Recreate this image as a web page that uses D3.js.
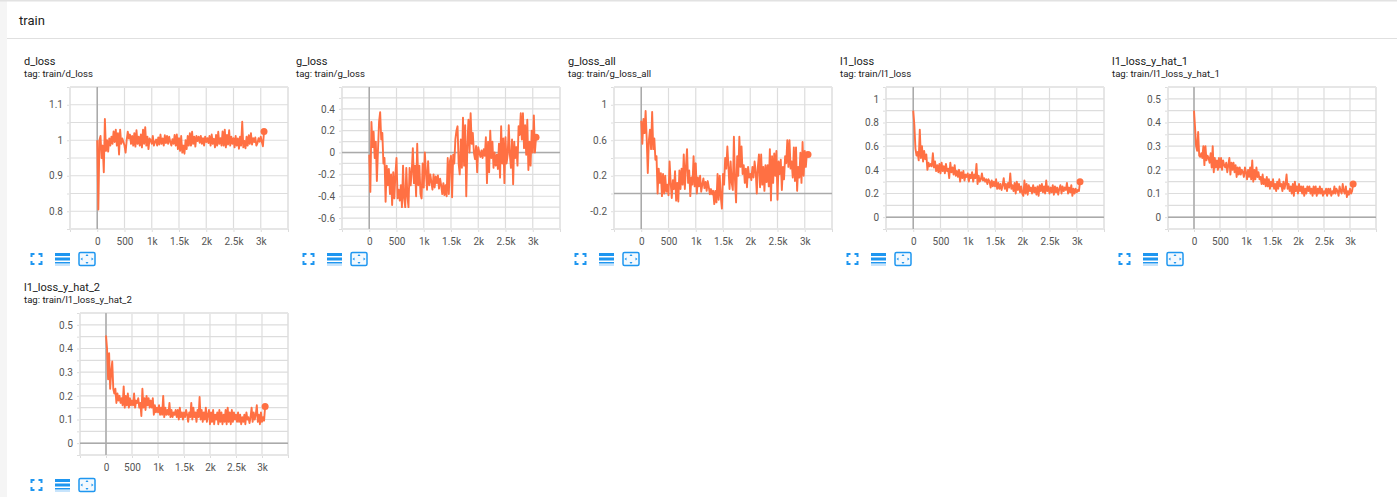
<!DOCTYPE html>
<html>
<head>
<meta charset="utf-8">
<script src="https://cdnjs.cloudflare.com/ajax/libs/d3/7.8.5/d3.min.js"></script>
<style>
html, body { margin: 0; padding: 0; background: #fff; overflow: hidden; }
svg { display: block; font-family: Roboto, sans-serif; }
.domain { display: none; }
</style>
</head>
<body>
<div id="board"></div>
<script>
// training steps, one row = 200 steps
const steps = [
    0, 20, 40, 60, 80, 100, 120, 140, 160, 180,
    200, 220, 240, 260, 280, 300, 320, 340, 360, 380,
    400, 420, 440, 460, 480, 500, 520, 540, 560, 580,
    600, 620, 640, 660, 680, 700, 720, 740, 760, 780,
    800, 820, 840, 860, 880, 900, 920, 940, 960, 980,
    1000, 1020, 1040, 1060, 1080, 1100, 1120, 1140, 1160, 1180,
    1200, 1220, 1240, 1260, 1280, 1300, 1320, 1340, 1360, 1380,
    1400, 1420, 1440, 1460, 1480, 1500, 1520, 1540, 1560, 1580,
    1600, 1620, 1640, 1660, 1680, 1700, 1720, 1740, 1760, 1780,
    1800, 1820, 1840, 1860, 1880, 1900, 1920, 1940, 1960, 1980,
    2000, 2020, 2040, 2060, 2080, 2100, 2120, 2140, 2160, 2180,
    2200, 2220, 2240, 2260, 2280, 2300, 2320, 2340, 2360, 2380,
    2400, 2420, 2440, 2460, 2480, 2500, 2520, 2540, 2560, 2580,
    2600, 2620, 2640, 2660, 2680, 2700, 2720, 2740, 2760, 2780,
    2800, 2820, 2840, 2860, 2880, 2900, 2920, 2940, 2960, 2980,
    3000, 3020, 3040, 3060
];

const dLoss = [
    1.0, 0.805, 1.0, 1.012, 0.95, 0.985, 0.91, 1.06, 0.97, 1.0,
    0.968, 1.005, 0.985, 1.01, 0.99, 1.025, 0.995, 1.03, 0.985, 1.02,
    0.96, 1.03, 0.99, 1.005, 0.995, 0.985, 0.965, 1.0, 1.024, 1.005,
    1.016, 0.99, 1.012, 0.985, 1.02, 0.982, 1.028, 0.99, 1.01, 0.985,
    1.016, 0.98, 1.03, 0.99, 1.037, 0.985, 1.01, 0.975, 1.005, 1.0,
    0.99, 1.012, 0.985, 0.995, 1.002, 0.985, 1.008, 0.988, 1.016, 0.99,
    1.005, 0.985, 1.014, 0.992, 1.012, 0.99, 1.01, 0.995, 0.985, 1.003,
    0.99, 1.015, 0.985, 1.016, 0.975, 1.006, 0.97, 1.012, 0.965, 0.985,
    0.962, 1.0, 0.975, 1.012, 0.985, 1.02, 0.985, 1.024, 0.99, 1.01,
    0.982, 1.012, 0.998, 1.01, 0.993, 1.012, 0.99, 1.006, 0.985, 1.01,
    0.995, 1.006, 0.992, 1.012, 0.985, 1.016, 0.99, 1.004, 0.98, 1.015,
    0.985, 1.024, 0.99, 1.006, 0.985, 1.025, 0.985, 1.03, 0.98, 1.015,
    0.988, 1.028, 0.985, 1.01, 0.99, 1.006, 0.98, 1.012, 0.985, 1.005,
    0.976, 1.01, 0.985, 1.052, 0.98, 0.998, 0.977, 1.01, 0.985, 1.014,
    0.99, 1.02, 0.988, 1.006, 0.995, 1.008, 0.985, 0.992, 1.006, 0.996,
    1.01, 0.995, 0.983, 1.025
];

const gLoss = [
    -0.02, -0.36, 0.28, 0.05, 0.19, -0.05, 0.1, -0.26, 0.02, 0.28,
    0.37, 0.12, 0.18, -0.1, -0.05, -0.45, -0.12, -0.3, -0.15, -0.38,
    -0.2, -0.48, -0.18, -0.42, -0.2, -0.05, -0.42, -0.34, -0.44, -0.3,
    -0.5, -0.12, -0.42, -0.5, -0.14, -0.4, -0.5, -0.14, -0.3, -0.17,
    0.04, -0.28, -0.12, -0.4, 0.08, -0.3, -0.12, -0.38, -0.42, -0.1,
    -0.32, 0.0, -0.18, -0.34, -0.08, -0.3, -0.2, -0.27, -0.34, -0.2,
    -0.32, -0.22, -0.28, -0.21, -0.33, -0.24, -0.3, -0.38, -0.28, -0.39,
    -0.3, -0.4, -0.05, -0.38, -0.08, -0.03, -0.41, -0.02, -0.1, 0.12,
    0.2, 0.24, -0.1, -0.2, 0.12, -0.14, 0.32, -0.12, 0.25, -0.4,
    0.06, 0.3, 0.0, 0.36, 0.08, 0.18, 0.0, -0.06, 0.06, -0.18,
    0.05, 0.0, -0.04, 0.02, -0.05, 0.03, -0.03, 0.14, -0.28, 0.1,
    -0.18, 0.2, -0.05, 0.1, -0.14, 0.0, -0.12, -0.02, -0.15, 0.08,
    -0.23, 0.24, -0.1, 0.13, -0.28, 0.14, -0.1, -0.02, 0.25, -0.02,
    -0.14, 0.12, -0.29, 0.1, -0.05, 0.05, -0.12, 0.24, 0.16, 0.36,
    0.12, 0.36, 0.04, 0.25, -0.02, 0.3, -0.16, 0.1, -0.12, 0.2,
    0.0, 0.34, 0.0, 0.14
];

const gLossAll = [
    0.82, 0.56, 0.84, 0.68, 0.93, 0.62, 0.23, 0.6, 0.72, 0.5,
    0.92, 0.5, 0.62, 0.38, 0.42, 0.0, 0.28, 0.12, 0.23, -0.03,
    0.22, 0.0, 0.2, 0.02, 0.1, -0.02, 0.36, 0.12, -0.05, 0.15,
    0.05, 0.25, -0.08, 0.12, -0.09, 0.26, 0.05, 0.28, 0.1, 0.44,
    0.05, 0.3, 0.5, 0.12, 0.26, -0.03, 0.18, 0.1, 0.42, 0.08,
    0.34, 0.0, 0.18, 0.08, 0.2, 0.02, 0.1, 0.17, 0.06, 0.13,
    0.03, 0.14, 0.07, -0.01, 0.05, -0.01, 0.03, -0.12, 0.03, -0.1,
    0.22, -0.07, 0.2, -0.04, -0.17, 0.22, 0.1, 0.4, 0.28, 0.53,
    0.3, 0.05, 0.36, 0.12, 0.04, 0.64, 0.15, -0.1, 0.42, 0.2,
    0.64, 0.3, 0.53, 0.22, 0.32, 0.12, 0.28, 0.07, 0.3, 0.18,
    0.22, 0.15, 0.3, 0.18, 0.36, 0.25, 0.0, 0.3, 0.44, 0.07,
    0.44, 0.1, 0.3, 0.03, 0.32, 0.13, 0.32, 0.08, 0.5, -0.08,
    0.42, 0.12, 0.45, 0.2, 0.48, -0.07, 0.36, 0.22, 0.38, 0.04,
    0.3, 0.16, 0.42, 0.34, 0.6, 0.3, 0.6, 0.28, 0.36, 0.18,
    0.52, 0.14, 0.52, 0.03, 0.3, 0.18, 0.46, 0.12, 0.58, 0.2,
    0.48, 0.3, 0.46, 0.44
];

const l1Loss = [
    0.9, 0.78, 0.58, 0.52, 0.55, 0.48, 0.74, 0.5, 0.6, 0.47,
    0.56, 0.49, 0.53, 0.4, 0.46, 0.43, 0.45, 0.43, 0.54, 0.42,
    0.47, 0.39, 0.44, 0.38, 0.45, 0.37, 0.46, 0.39, 0.43, 0.37,
    0.45, 0.39, 0.41, 0.33, 0.46, 0.38, 0.42, 0.36, 0.44, 0.35,
    0.39, 0.34, 0.4, 0.3, 0.38, 0.33, 0.39, 0.31, 0.36, 0.34,
    0.37, 0.3, 0.36, 0.33, 0.38, 0.3, 0.36, 0.33, 0.45, 0.28,
    0.35, 0.3, 0.32, 0.37, 0.31, 0.33, 0.3, 0.32, 0.28, 0.32,
    0.3, 0.25, 0.31, 0.26, 0.3, 0.26, 0.32, 0.24, 0.29, 0.24,
    0.28, 0.23, 0.27, 0.33, 0.24, 0.28, 0.22, 0.29, 0.25, 0.37,
    0.24, 0.27, 0.22, 0.29, 0.2, 0.3, 0.23, 0.28, 0.21, 0.26,
    0.2, 0.18, 0.31, 0.2, 0.28, 0.19, 0.27, 0.22, 0.25, 0.2,
    0.27, 0.21, 0.25, 0.19, 0.26, 0.18, 0.27, 0.22, 0.28, 0.21,
    0.26, 0.2, 0.31, 0.22, 0.26, 0.2, 0.25, 0.21, 0.27, 0.19,
    0.26, 0.21, 0.25, 0.19, 0.24, 0.27, 0.2, 0.26, 0.22, 0.25,
    0.23, 0.29, 0.2, 0.25, 0.21, 0.27, 0.18, 0.24, 0.2, 0.24,
    0.21, 0.23, 0.22, 0.3
];

const l1Hat1 = [
    0.45, 0.38, 0.3, 0.28, 0.36, 0.26, 0.255, 0.27, 0.25, 0.3,
    0.22, 0.3, 0.24, 0.26, 0.25, 0.23, 0.27, 0.21, 0.3, 0.19,
    0.25, 0.21, 0.24, 0.2, 0.25, 0.21, 0.25, 0.2, 0.24, 0.22,
    0.21, 0.23, 0.19, 0.22, 0.25, 0.18, 0.23, 0.2, 0.23, 0.19,
    0.22, 0.17, 0.21, 0.18, 0.21, 0.18, 0.2, 0.19, 0.17, 0.21,
    0.19, 0.16, 0.2, 0.17, 0.21, 0.16, 0.24, 0.15, 0.2, 0.16,
    0.21, 0.17, 0.19, 0.16, 0.17, 0.14, 0.18, 0.14, 0.16, 0.13,
    0.17, 0.13, 0.16, 0.12, 0.15, 0.13, 0.16, 0.12, 0.14, 0.11,
    0.15, 0.12, 0.16, 0.13, 0.14, 0.11, 0.15, 0.12, 0.14, 0.18,
    0.12, 0.14, 0.11, 0.13, 0.1, 0.14, 0.09, 0.15, 0.11, 0.13,
    0.1, 0.14, 0.11, 0.13, 0.1, 0.13, 0.09, 0.12, 0.1, 0.13,
    0.11, 0.13, 0.1, 0.12, 0.09, 0.13, 0.1, 0.13, 0.09, 0.12,
    0.1, 0.13, 0.1, 0.12, 0.09, 0.11, 0.1, 0.12, 0.09, 0.12,
    0.1, 0.12, 0.09, 0.11, 0.1, 0.13, 0.1, 0.12, 0.11, 0.09,
    0.13, 0.11, 0.1, 0.14, 0.11, 0.1, 0.13, 0.085, 0.11, 0.095,
    0.12, 0.1, 0.11, 0.14
];

const l1Hat2 = [
    0.455, 0.4, 0.27, 0.38, 0.23, 0.3, 0.345, 0.23, 0.21, 0.23,
    0.17, 0.21, 0.18, 0.2, 0.17, 0.19, 0.16, 0.24, 0.15, 0.2,
    0.16, 0.21, 0.15, 0.19, 0.16, 0.18, 0.16, 0.21, 0.15, 0.18,
    0.17, 0.19, 0.15, 0.17, 0.115, 0.23, 0.15, 0.19, 0.14, 0.2,
    0.16, 0.19, 0.15, 0.18, 0.15, 0.19, 0.12, 0.16, 0.13, 0.15,
    0.13, 0.16, 0.12, 0.15, 0.12, 0.2, 0.11, 0.15, 0.12, 0.14,
    0.12, 0.17, 0.11, 0.14, 0.11, 0.13, 0.12, 0.14, 0.11, 0.14,
    0.1, 0.15, 0.11, 0.13, 0.1, 0.13, 0.11, 0.14, 0.12, 0.09,
    0.13, 0.11, 0.17, 0.1, 0.15, 0.11, 0.13, 0.09, 0.14, 0.11,
    0.195, 0.1, 0.14, 0.09, 0.13, 0.1, 0.15, 0.09, 0.12, 0.14,
    0.08, 0.13, 0.09, 0.14, 0.08, 0.12, 0.1, 0.13, 0.08, 0.14,
    0.09, 0.13, 0.08, 0.12, 0.09, 0.14, 0.08, 0.15, 0.09, 0.13,
    0.08, 0.14, 0.09, 0.13, 0.1, 0.12, 0.09, 0.13, 0.09, 0.12,
    0.08, 0.11, 0.09, 0.12, 0.08, 0.13, 0.1, 0.11, 0.085, 0.11,
    0.15, 0.09, 0.13, 0.1, 0.12, 0.16, 0.09, 0.12, 0.08, 0.13,
    0.09, 0.11, 0.095, 0.155
];

const xGrid = [-500, 0, 500, 1000, 1500, 2000, 2500, 3000, 3500];
const xLabels = ["", "0", "500", "1k", "1.5k", "2k", "2.5k", "3k", ""];

const titles = ["d_loss", "g_loss", "g_loss_all", "l1_loss", "l1_loss_y_hat_1", "l1_loss_y_hat_2"];
const tags = ["train/d_loss", "train/g_loss", "train/g_loss_all", "train/l1_loss", "train/l1_loss_y_hat_1", "train/l1_loss_y_hat_2"];
const seriesList = [dLoss, gLoss, gLossAll, l1Loss, l1Hat1, l1Hat2];
const yDomains = [[0.75, 1.15], [-0.7, 0.6], [-0.4, 1.2], [-0.1, 1.1], [-0.05, 0.55], [-0.05, 0.55]];
const yGrids = [
    [0.75, 0.8, 0.85, 0.9, 0.95, 1, 1.05, 1.1, 1.15],
    [-0.7, -0.6, -0.5, -0.4, -0.3, -0.2, -0.1, 0, 0.1, 0.2, 0.3, 0.4, 0.5, 0.6],
    [-0.4, -0.2, 0, 0.2, 0.4, 0.6, 0.8, 1, 1.2],
    [-0.1, 0, 0.1, 0.2, 0.3, 0.4, 0.5, 0.6, 0.7, 0.8, 0.9, 1, 1.1],
    [-0.05, 0, 0.05, 0.1, 0.15, 0.2, 0.25, 0.3, 0.35, 0.4, 0.45, 0.5, 0.55],
    [-0.05, 0, 0.05, 0.1, 0.15, 0.2, 0.25, 0.3, 0.35, 0.4, 0.45, 0.5, 0.55]
];
const yLabelled = [
    [0.8, 0.9, 1, 1.1],
    [-0.6, -0.4, -0.2, 0, 0.2, 0.4],
    [-0.2, 0.2, 0.6, 1],
    [0, 0.2, 0.4, 0.6, 0.8, 1],
    [0, 0.1, 0.2, 0.3, 0.4, 0.5],
    [0, 0.1, 0.2, 0.3, 0.4, 0.5]
];

// where each panel sits on the page
const panels = [
    { tx: 24, ty: 65, left: 70, right: 288, top: 87, bottom: 229 },
    { tx: 296, ty: 65, left: 342, right: 560, top: 87, bottom: 229 },
    { tx: 568, ty: 65, left: 614, right: 832, top: 87, bottom: 229 },
    { tx: 840, ty: 65, left: 886, right: 1104, top: 87, bottom: 229 },
    { tx: 1112, ty: 65, left: 1168, right: 1376, top: 87, bottom: 229 },
    { tx: 24, ty: 291, left: 80, right: 288, top: 313, bottom: 455 }
];

const svg = d3.select("#board").append("svg").attr("width", 1397).attr("height", 497);

// page chrome
svg.append("rect").attr("width", 7).attr("height", 497).attr("fill", "#f5f5f5");
svg.append("rect").attr("width", 1397).attr("height", 1.5).attr("fill", "#e2e2e2");
svg.append("rect").attr("x", 7).attr("y", 38).attr("width", 1390).attr("height", 1).attr("fill", "#e0e0e0");
svg.append("text").attr("x", 19).attr("y", 25).attr("font-size", 13).attr("fill", "#212121").text("train");

const fmt = d => String(d);

panels.forEach((p, i) => {
    const x = d3.scaleLinear().domain([-500, 3500]).range([p.left, p.right]);
    const y = d3.scaleLinear().domain(yDomains[i]).range([p.bottom, p.top]);
    const g = svg.append("g");

    g.append("text").attr("x", p.tx).attr("y", p.ty).attr("font-size", 11).attr("fill", "#212121").text(titles[i]);
    g.append("text").attr("x", p.tx).attr("y", p.ty + 12).attr("font-size", 9.6).attr("fill", "#212121").text("tag: " + tags[i]);

    // grid lines + tick labels
    const xAxis = g.append("g").attr("transform", `translate(0,${p.bottom})`)
        .call(d3.axisBottom(x).tickValues(xGrid).tickSizeInner(3).tickSizeOuter(0).tickPadding(6)
            .tickFormat((d, k) => xLabels[k]));
    xAxis.selectAll("line").attr("stroke", "#ddd");
    xAxis.selectAll("text").attr("font-family", "Roboto, sans-serif").attr("font-size", 10).attr("fill", "#555");

    const yAxis = g.append("g").attr("transform", `translate(${p.left},0)`)
        .call(d3.axisLeft(y).tickValues(yGrids[i]).tickSizeInner(3).tickSizeOuter(0).tickPadding(4)
            .tickFormat(d => yLabelled[i].includes(d) ? fmt(d) : ""));
    yAxis.selectAll("line").attr("stroke", "#ddd");
    yAxis.selectAll("text").attr("font-family", "Roboto, sans-serif").attr("font-size", 10).attr("fill", "#555");

    g.append("g").selectAll("line").data(xGrid).join("line")
        .attr("x1", d => x(d)).attr("x2", d => x(d))
        .attr("y1", p.top).attr("y2", p.bottom)
        .attr("stroke", d => (d === -500 || d === 3500) ? "#e6e6e6" : "#ddd")
        .attr("stroke-width", d => (d === -500 || d === 3500) ? 2 : 1.2);
    g.append("g").selectAll("line").data(yGrids[i]).join("line")
        .attr("x1", p.left).attr("x2", p.right)
        .attr("y1", d => y(d)).attr("y2", d => y(d))
        .attr("stroke", (d, k) => (k === 0 || k === yGrids[i].length - 1) ? "#e6e6e6" : "#ddd")
        .attr("stroke-width", (d, k) => (k === 0 || k === yGrids[i].length - 1) ? 2 : 1.2);

    // zero lines
    g.append("line").attr("x1", x(0)).attr("x2", x(0)).attr("y1", p.top).attr("y2", p.bottom)
        .attr("stroke", "#aaa").attr("stroke-width", 1.5);
    if (yDomains[i][0] < 0) {
        g.append("line").attr("x1", p.left).attr("x2", p.right).attr("y1", y(0)).attr("y2", y(0))
            .attr("stroke", "#aaa").attr("stroke-width", 1.5);
    }

    const line = d3.line().x((d, k) => x(steps[k])).y(d => y(d));
    g.append("path").datum(seriesList[i])
        .attr("fill", "none").attr("stroke", "#ff7043").attr("stroke-width", 1.9)
        .attr("stroke-linejoin", "round").attr("d", line);
    const last = seriesList[i].length - 1;
    g.append("circle").attr("cx", x(steps[last])).attr("cy", y(seriesList[i][last])).attr("r", 3.5).attr("fill", "#ff7043");

    drawIcons(g, p.tx, p.bottom + 30);
});

function drawIcons(g, tx, cy) {
    const blue = "#1e96f0";
    // fullscreen corners
    const fx = tx + 12.5;
    g.append("path").attr("fill", "none").attr("stroke", blue).attr("stroke-width", 2)
        .attr("d", `M${fx - 5} ${cy - 2}V${cy - 5}H${fx - 2}M${fx + 2} ${cy - 5}H${fx + 5}V${cy - 2}M${fx + 5} ${cy + 2}V${cy + 5}H${fx + 2}M${fx - 2} ${cy + 5}H${fx - 5}V${cy + 2}`);
    // stacked bars
    g.append("rect").attr("x", tx + 31).attr("y", cy - 6).attr("width", 15).attr("height", 3).attr("fill", blue);
    g.append("rect").attr("x", tx + 31).attr("y", cy - 1.5).attr("width", 15).attr("height", 3).attr("fill", blue);
    g.append("rect").attr("x", tx + 31).attr("y", cy + 3).attr("width", 15).attr("height", 1.5).attr("fill", blue);
    g.append("rect").attr("x", tx + 31).attr("y", cy + 5.5).attr("width", 15).attr("height", 1).attr("fill", "#90caf9");
    // fit-to-domain toggle
    const bx = tx + 63;
    g.append("rect").attr("x", bx - 8).attr("y", cy - 6.5).attr("width", 16).attr("height", 13).attr("rx", 1.5)
        .attr("fill", "#f3f9fe").attr("stroke", blue).attr("stroke-width", 1.5);
    g.append("path").attr("fill", blue)
        .attr("d", `M${bx} ${cy - 5}l1.5 2h-3zM${bx} ${cy + 5}l1.5 -2h-3zM${bx - 6.5} ${cy}l2 -1.5v3zM${bx + 6.5} ${cy}l-2 -1.5v3z`);
}
</script>
</body>
</html>
